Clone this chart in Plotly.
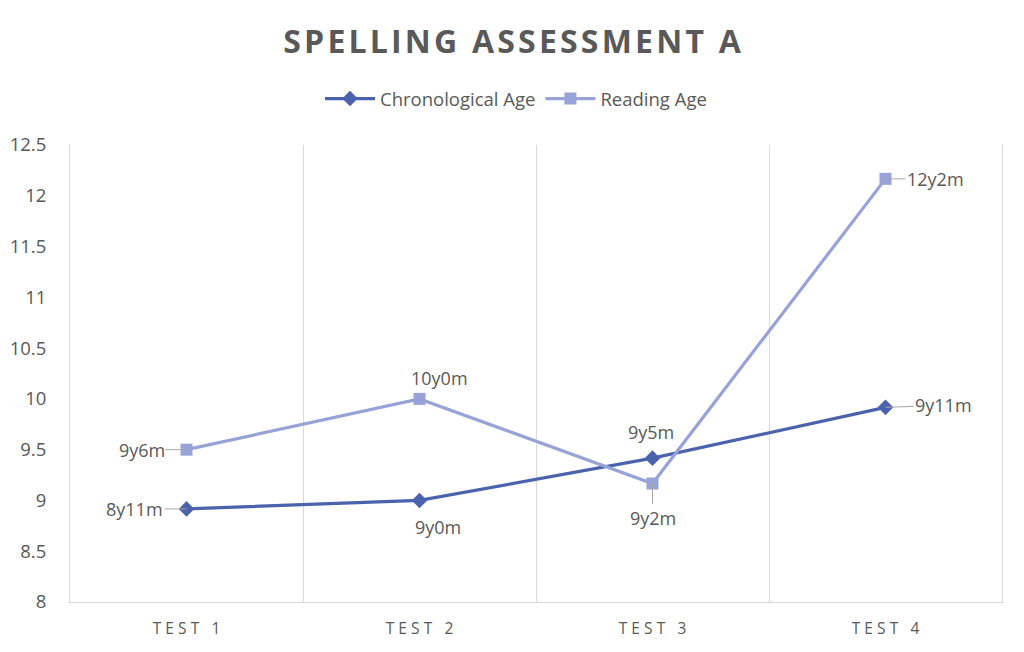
import plotly.graph_objects as go

categories = ["TEST 1", "TEST 2", "TEST 3", "TEST 4"]
chron_age = [8 + 11/12, 9.0, 9 + 5/12, 9 + 11/12]
chron_labels = ["8y11m", "9y0m", "9y5m", "9y11m"]
reading_age = [9.5, 10.0, 9 + 2/12, 12 + 2/12]
reading_labels = ["9y6m", "10y0m", "9y2m", "12y2m"]
y_ticks = [8, 8.5, 9, 9.5, 10, 10.5, 11, 11.5, 12, 12.5]

C1 = "#4B63AD"
C2 = "#97A3D6"
GREY = "#595959"
FONT = "Open Sans"

W, H = 1016, 644  # page body has an 8px margin

def spaced(s, sep="\u2009"):
    return sep.join(list(s))

tick_text = [spaced(c, "\u2009\u200a") for c in categories]

fig = go.Figure()
fig.add_trace(go.Scatter(
    x=categories, y=chron_age, name="Chronological Age", mode="lines+markers",
    line=dict(color=C1, width=3.2), marker=dict(symbol="diamond", size=12, color=C1)))
fig.add_trace(go.Scatter(
    x=categories, y=reading_age, name="Reading Age", mode="lines+markers",
    line=dict(color=C2, width=3.2), marker=dict(symbol="square", size=12, color=C2)))

chron_off = [(-52, 0, True), (18, 27, False), (-2, -26, False), (58, -2, True)]
read_off = [(-45, 0, True), (20, -21, False), (0, 34, True), (50, 0, True)]

annos = []
for cat, val, lab, (ax, ay, lead) in list(zip(categories, chron_age, chron_labels, chron_off)) + \
        list(zip(categories, reading_age, reading_labels, read_off)):
    if lead:
        annos.append(dict(x=cat, y=val, text=lab, showarrow=True, ax=ax, ay=ay,
                          arrowhead=0, arrowwidth=1, arrowcolor="#A6A6A6", standoff=0,
                          font=dict(family=FONT, size=18, color=GREY)))
    else:
        annos.append(dict(x=cat, y=val, text=lab, showarrow=False, xshift=ax, yshift=-ay,
                          font=dict(family=FONT, size=18, color=GREY)))

fig.update_layout(
    width=W, height=H,
    paper_bgcolor="white", plot_bgcolor="white",
    margin=dict(l=62, r=22, t=137, b=50, autoexpand=False),
    title=dict(text="<b>" + spaced("SPELLING ASSESSMENT A", "\u200a") + "</b>",
               x=0.5 - 4/W, xanchor="center", xref="container",
               y=1 - 34/H, yanchor="middle", yref="container",
               font=dict(family=FONT, size=32, color=GREY)),
    legend=dict(orientation="h", x=0.5, xanchor="center", xref="container",
                y=1 - 91/H, yanchor="middle", yref="container",
                font=dict(family=FONT, size=18.5, color=GREY), itemwidth=50),
    annotations=annos,
    xaxis=dict(type="category", tickson="boundaries", showgrid=True, gridcolor="#D9D9D9",
               gridwidth=1, showline=True, linecolor="#D9D9D9", linewidth=1, ticks="",
               tickvals=categories, ticktext=tick_text, range=[-0.5, 3.5],
               ticklabelstandoff=12, automargin=False,
               tickfont=dict(family=FONT, size=15.5, color=GREY), zeroline=False),
    yaxis=dict(range=[8, 12.5], tickvals=y_ticks, showgrid=False, zeroline=False,
               showline=True, mirror=True, linecolor="#D9D9D9", linewidth=1,
               ticks="", ticklabelstandoff=19, automargin=False,
               tickfont=dict(family=FONT, size=18.5, color=GREY)),
)

fig.write_html("out.html")
